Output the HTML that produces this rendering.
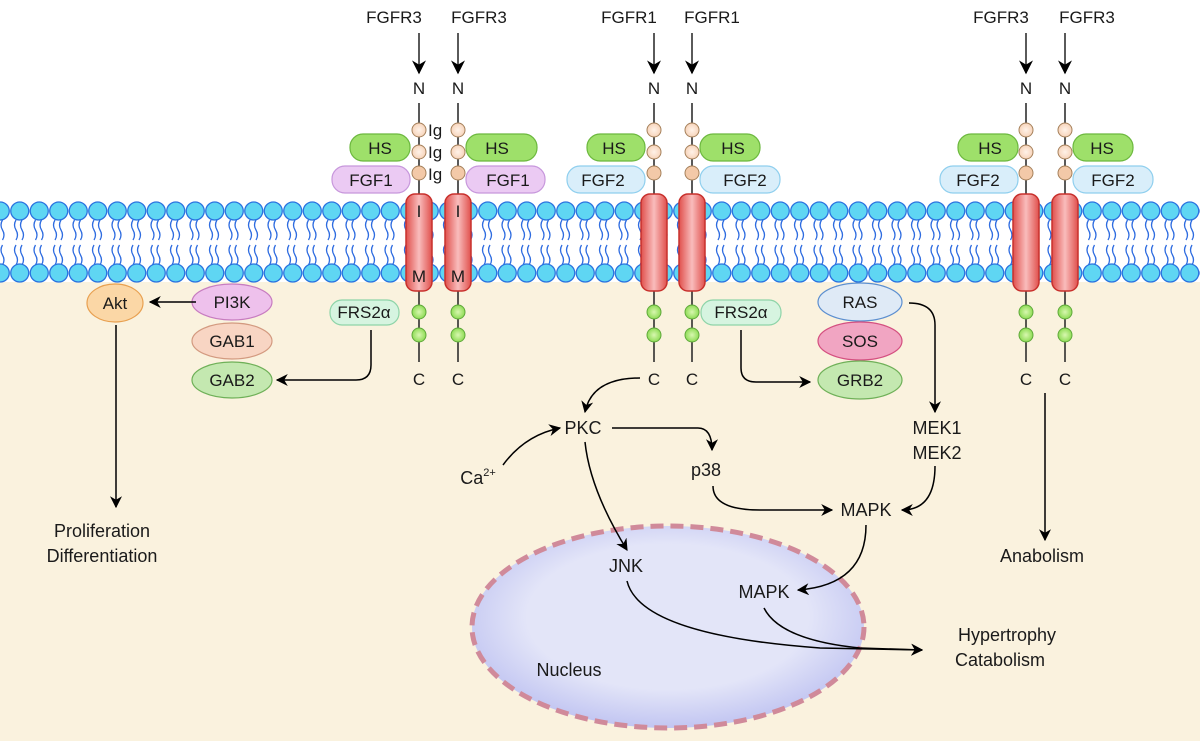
<!DOCTYPE html>
<html><head><meta charset="utf-8"><style>
html,body{margin:0;padding:0;background:#fff}
svg{display:block}
text{font-family:"Liberation Sans",sans-serif;fill:#1a1a1a}
</style></head><body>
<svg width="1200" height="741" viewBox="0 0 1200 741" xmlns="http://www.w3.org/2000/svg">
<defs>
<marker id="ah" viewBox="0 0 10 10" refX="9" refY="5" markerWidth="12" markerHeight="12" orient="auto" markerUnits="userSpaceOnUse"><path d="M0,0 L10,5 L0,10 L3,5 z" fill="#000"/></marker>
<marker id="ah2" viewBox="0 0 10 10" refX="9" refY="5" markerWidth="14" markerHeight="14" orient="auto" markerUnits="userSpaceOnUse"><path d="M0,0 L10,5 L0,10 L3,5 z" fill="#000"/></marker>
<pattern id="lip" x="10" y="0" width="19.5" height="300" patternUnits="userSpaceOnUse">
<path d="M6,220 q-3,5 0,10 q3,5 0,10 M12,220 q-3,5 0,10 q3,5 0,10 M6,245 q-3,5 0,10 q3,5 0,10 M12,245 q-3,5 0,10 q3,5 0,10" fill="none" stroke="#2d6be0" stroke-width="1.3"/>
<circle cx="9.75" cy="211" r="9" fill="#5fd6f3" stroke="#2a73e0" stroke-width="1.3"/>
<circle cx="9.75" cy="273" r="9" fill="#5fd6f3" stroke="#2a73e0" stroke-width="1.3"/>
</pattern>
<linearGradient id="tm" x1="0" x2="1"><stop offset="0" stop-color="#e0504c"/><stop offset="0.5" stop-color="#f9bcbc"/><stop offset="1" stop-color="#e0504c"/></linearGradient>
<radialGradient id="nuc" cx="0.5" cy="0.45" r="0.6"><stop offset="0.6" stop-color="#e3e5f8"/><stop offset="1" stop-color="#b9bdf0"/></radialGradient>
<radialGradient id="gc"><stop offset="0" stop-color="#d8f7b0"/><stop offset="1" stop-color="#8fdc55"/></radialGradient>
<radialGradient id="ig"><stop offset="0" stop-color="#fff2e8"/><stop offset="1" stop-color="#f7d4bb"/></radialGradient>
</defs>
<rect x="0" y="282" width="1200" height="459" fill="#faf2de"/>
<rect x="0" y="195" width="1200" height="95" fill="url(#lip)"/>

<g stroke="#222" stroke-width="1.5">
<line x1="419" y1="103" x2="419" y2="362"/><line x1="458" y1="103" x2="458" y2="362"/>
<line x1="654" y1="103" x2="654" y2="362"/><line x1="692" y1="103" x2="692" y2="362"/>
<line x1="1026" y1="103" x2="1026" y2="362"/><line x1="1065" y1="103" x2="1065" y2="362"/>
<line x1="419" y1="33" x2="419" y2="73" marker-end="url(#ah2)"/><line x1="458" y1="33" x2="458" y2="73" marker-end="url(#ah2)"/>
<line x1="654" y1="33" x2="654" y2="73" marker-end="url(#ah2)"/><line x1="692" y1="33" x2="692" y2="73" marker-end="url(#ah2)"/>
<line x1="1026" y1="33" x2="1026" y2="73" marker-end="url(#ah2)"/><line x1="1065" y1="33" x2="1065" y2="73" marker-end="url(#ah2)"/>
</g>
<g font-size="17" text-anchor="middle">
<text x="394" y="23">FGFR3</text><text x="479" y="23">FGFR3</text>
<text x="629" y="23">FGFR1</text><text x="712" y="23">FGFR1</text>
<text x="1001" y="23">FGFR3</text><text x="1087" y="23">FGFR3</text>
<text x="419" y="94">N</text><text x="458" y="94">N</text><text x="654" y="94">N</text><text x="692" y="94">N</text><text x="1026" y="94">N</text><text x="1065" y="94">N</text>
<text x="419" y="385">C</text><text x="458" y="385">C</text><text x="654" y="385">C</text><text x="692" y="385">C</text><text x="1026" y="385">C</text><text x="1065" y="385">C</text>
</g>
<g stroke-width="1.2" font-size="17" text-anchor="middle">
<rect x="350" y="134" width="60" height="27" rx="13" fill="#9ee06a" stroke="#6cb83e"/><text x="380" y="154">HS</text>
<rect x="332" y="166" width="78" height="27" rx="13" fill="#ebcaf3" stroke="#c797dc"/><text x="371" y="186">FGF1</text>
<rect x="466" y="134" width="71" height="27" rx="13" fill="#9ee06a" stroke="#6cb83e"/><text x="497" y="154">HS</text>
<rect x="466" y="166" width="79" height="27" rx="13" fill="#ebcaf3" stroke="#c797dc"/><text x="508" y="186">FGF1</text>
<rect x="587" y="134" width="58" height="27" rx="13" fill="#9ee06a" stroke="#6cb83e"/><text x="614" y="154">HS</text>
<rect x="567" y="166" width="78" height="27" rx="13" fill="#d9eefa" stroke="#8fcfee"/><text x="603" y="186">FGF2</text>
<rect x="700" y="134" width="60" height="27" rx="13" fill="#9ee06a" stroke="#6cb83e"/><text x="733" y="154">HS</text>
<rect x="700" y="166" width="80" height="27" rx="13" fill="#d9eefa" stroke="#8fcfee"/><text x="745" y="186">FGF2</text>
<rect x="958" y="134" width="60" height="27" rx="13" fill="#9ee06a" stroke="#6cb83e"/><text x="990" y="154">HS</text>
<rect x="940" y="166" width="78" height="27" rx="13" fill="#d9eefa" stroke="#8fcfee"/><text x="978" y="186">FGF2</text>
<rect x="1073" y="134" width="60" height="27" rx="13" fill="#9ee06a" stroke="#6cb83e"/><text x="1102" y="154">HS</text>
<rect x="1073" y="166" width="80" height="27" rx="13" fill="#d9eefa" stroke="#8fcfee"/><text x="1113" y="186">FGF2</text>
</g>
<g fill="url(#ig)" stroke="#a5805a" stroke-width="1">
<circle cx="419" cy="130" r="7"/><circle cx="419" cy="152" r="7"/><circle cx="419" cy="173" r="7" fill="#f3c9a8"/>
<circle cx="458" cy="130" r="7"/><circle cx="458" cy="152" r="7"/><circle cx="458" cy="173" r="7" fill="#f3c9a8"/>
<circle cx="654" cy="130" r="7"/><circle cx="654" cy="152" r="7"/><circle cx="654" cy="173" r="7" fill="#f3c9a8"/>
<circle cx="692" cy="130" r="7"/><circle cx="692" cy="152" r="7"/><circle cx="692" cy="173" r="7" fill="#f3c9a8"/>
<circle cx="1026" cy="130" r="7"/><circle cx="1026" cy="152" r="7"/><circle cx="1026" cy="173" r="7" fill="#f3c9a8"/>
<circle cx="1065" cy="130" r="7"/><circle cx="1065" cy="152" r="7"/><circle cx="1065" cy="173" r="7" fill="#f3c9a8"/>
</g>
<g font-size="17"><text x="428" y="136">Ig</text><text x="428" y="158">Ig</text><text x="428" y="180">Ig</text></g>
<g fill="url(#tm)" stroke="#c8302c" stroke-width="1.5">
<rect x="406" y="194" width="26" height="97" rx="9"/><rect x="445" y="194" width="26" height="97" rx="9"/>
<rect x="641" y="194" width="26" height="97" rx="9"/><rect x="679" y="194" width="26" height="97" rx="9"/>
<rect x="1013" y="194" width="26" height="97" rx="9"/><rect x="1052" y="194" width="26" height="97" rx="9"/>
</g>
<g font-size="17" text-anchor="middle"><text x="419" y="217">I</text><text x="458" y="217">I</text><text x="419" y="282">M</text><text x="458" y="282">M</text></g>
<g fill="url(#gc)" stroke="#5ea83a" stroke-width="1">
<circle cx="419" cy="312" r="7"/><circle cx="419" cy="335" r="7"/><circle cx="458" cy="312" r="7"/><circle cx="458" cy="335" r="7"/>
<circle cx="654" cy="312" r="7"/><circle cx="654" cy="335" r="7"/><circle cx="692" cy="312" r="7"/><circle cx="692" cy="335" r="7"/>
<circle cx="1026" cy="312" r="7"/><circle cx="1026" cy="335" r="7"/><circle cx="1065" cy="312" r="7"/><circle cx="1065" cy="335" r="7"/>
</g>
<ellipse cx="668" cy="627" rx="196" ry="101" fill="url(#nuc)" stroke="#d08a9a" stroke-width="5" stroke-dasharray="13,7"/>
<g stroke-width="1.2" font-size="17" text-anchor="middle">
<ellipse cx="115" cy="303" rx="28" ry="19" fill="#fbd7a6" stroke="#e8a050"/><text x="115" y="309">Akt</text>
<ellipse cx="232" cy="302" rx="40" ry="18" fill="#eec1ec" stroke="#c77cc0"/><text x="232" y="308">PI3K</text>
<ellipse cx="232" cy="341" rx="40" ry="18" fill="#f8d5c3" stroke="#d39a80"/><text x="232" y="347">GAB1</text>
<ellipse cx="232" cy="380" rx="40" ry="18" fill="#c4e8b0" stroke="#6fb058"/><text x="232" y="386">GAB2</text>
<rect x="330" y="300" width="69" height="25" rx="12" fill="#d6f4e0" stroke="#8ed4a8"/><text x="364" y="318">FRS2α</text>
<rect x="701" y="300" width="80" height="25" rx="12" fill="#d6f4e0" stroke="#8ed4a8"/><text x="741" y="318">FRS2α</text>
<ellipse cx="860" cy="302" rx="42" ry="19" fill="#dfeaf6" stroke="#5c8fd0"/><text x="860" y="308">RAS</text>
<ellipse cx="860" cy="341" rx="42" ry="19" fill="#f1a5c2" stroke="#d45080"/><text x="860" y="347">SOS</text>
<ellipse cx="860" cy="380" rx="42" ry="19" fill="#c4e8b0" stroke="#6fb058"/><text x="860" y="386">GRB2</text>
</g>
<g font-size="18" text-anchor="middle">
<text x="102" y="537">Proliferation</text><text x="102" y="562">Differentiation</text>
<text x="583" y="434">PKC</text>
<text x="706" y="476">p38</text>
<text x="937" y="434">MEK1</text><text x="937" y="459">MEK2</text>
<text x="866" y="516">MAPK</text>
<text x="626" y="572">JNK</text>
<text x="764" y="598">MAPK</text>
<text x="569" y="676">Nucleus</text>
<text x="1007" y="641">Hypertrophy</text><text x="1000" y="666">Catabolism</text>
<text x="1042" y="562">Anabolism</text>
<text x="478" y="484">Ca<tspan font-size="11" dy="-8">2+</tspan></text>
</g>
<g fill="none" stroke="#000" stroke-width="1.5" marker-end="url(#ah)">
<path d="M196,302 L150,302"/>
<path d="M116,325 L116,507"/>
<path d="M371,330 L371,365 Q371,380 356,380 L277,380"/>
<path d="M741,330 L741,368 Q741,382 756,382 L810,382"/>
<path d="M909,303 Q935,303 935,325 L935,412"/>
<path d="M640,378 Q592,378 585,412"/>
<path d="M503,465 Q525,435 560,428"/>
<path d="M612,428 L698,428 Q712,428 712,450"/>
<path d="M713,486 Q713,510 760,510 L832,510"/>
<path d="M935,466 Q935,510 902,510"/>
<path d="M585,442 Q590,490 627,550"/>
<path d="M866,525 Q866,585 798,590"/>
<path d="M627,581 Q640,635 820,648 L922,650"/>
<path d="M764,608 Q780,640 860,648 L922,650"/>
<path d="M1045,393 L1045,540"/>
</g>
</svg>
</body></html>
